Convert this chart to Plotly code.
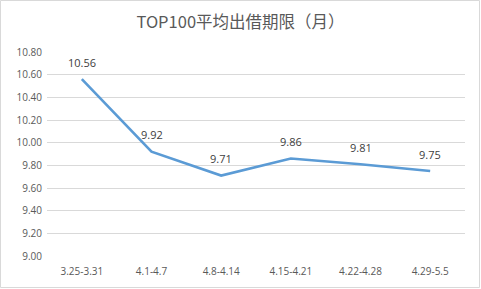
import plotly.graph_objects as go

categories = ["3.25-3.31", "4.1-4.7", "4.8-4.14", "4.15-4.21", "4.22-4.28", "4.29-5.5"]
values = [10.56, 9.92, 9.71, 9.86, 9.81, 9.75]
y_ticks = [9.00, 9.20, 9.40, 9.60, 9.80, 10.00, 10.20, 10.40, 10.60, 10.80]
title_text = "TOP100平均出借期限（月）"

fig = go.Figure()
fig.add_trace(go.Scatter(
    x=categories, y=values, mode="lines",
    line=dict(color="#5B9BD5", width=2.6),
    cliponaxis=False, hoverinfo="skip",
))
for c, v in zip(categories, values):
    fig.add_annotation(x=c, y=v, text=f"{v:.2f}", showarrow=False, yshift=17,
                       font=dict(family="Open Sans", size=11, color="#404040"))

L, R, T, B = 47, 16, 52, 33
W, H = 481, 289
pw, ph = W - L - R, H - T - B

fig.update_layout(
    width=W, height=H,
    margin=dict(l=L, r=R, t=T, b=B),
    paper_bgcolor="white", plot_bgcolor="white",
    showlegend=False,
    title=dict(text=title_text, x=0.5, xanchor="center", y=1 - 22 / H, yanchor="middle",
               font=dict(family="Noto Sans CJK SC", size=16.5, color="#595959")),
    xaxis=dict(type="category", range=[-0.5, 5.5], showgrid=False, showline=False,
               ticks="", ticklabelstandoff=8,
               tickfont=dict(family="Open Sans", size=10, color="#595959")),
    yaxis=dict(range=[9.0, 10.8], tickvals=y_ticks, ticktext=[f"{v:.2f}" for v in y_ticks],
               showgrid=True, gridcolor="#D9D9D9", gridwidth=1, zeroline=False,
               showline=False, ticks="", ticklabelstandoff=4,
               tickfont=dict(family="Open Sans", size=10, color="#595959")),
    shapes=[dict(type="rect", xref="paper", yref="paper",
                 x0=(0.5 - L) / pw, x1=(W - 1.5 - L) / pw,
                 y0=(H - B - (H - 1.5)) / ph, y1=(H - B - 0.5) / ph,
                 line=dict(color="#D9D9D9", width=1), layer="below")],
)
fig.write_html("out.html")
